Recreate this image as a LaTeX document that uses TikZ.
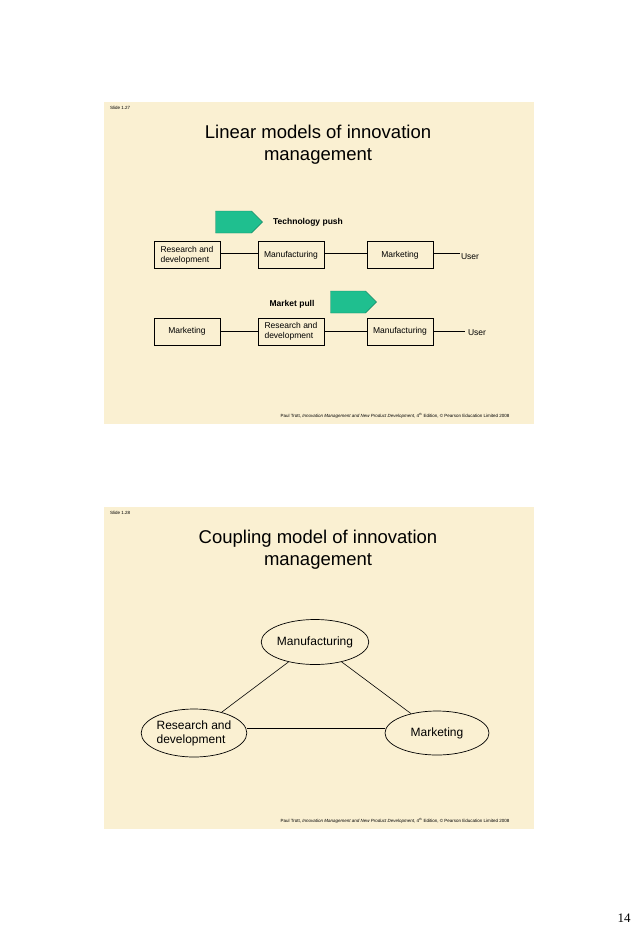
\documentclass[tikz,border=0pt]{standalone}
\usepackage{fontspec}
\setmainfont{Liberation Sans}
\newfontfamily\serifnum{Liberation Serif}
\usetikzlibrary{shapes.geometric,shapes.arrows}
\definecolor{slidebg}{HTML}{FAF0D2}
\definecolor{arrowgreen}{HTML}{1FBF8F}
\tikzset{
 every node/.style={inner sep=0pt},
 lbox/.style={draw,line width=0.6pt,minimum width=66pt,minimum height=27pt,align=left,font=\fontsize{8.5}{10}\selectfont},
 oval/.style={draw,ellipse,line width=0.7pt,align=left,font=\fontsize{12}{14}\selectfont},
 garrow/.style={single arrow,draw=arrowgreen!70!black,fill=arrowgreen,minimum height=47pt,minimum width=22pt,single arrow head extend=0pt,inner sep=0pt},
 conn/.style={line width=0.6pt},
 title/.style={font=\fontsize{18.5}{22}\selectfont,align=center},
 tiny/.style={font=\fontsize{4.5}{5}\selectfont},
 plain/.style={font=\fontsize{8.5}{10}\selectfont},
}
\begin{document}
\begin{tikzpicture}[x=1pt,y=-1pt]
\useasboundingbox (0,0) rectangle (638,932);
\fill[white] (0,0) rectangle (638,932);
\fill[slidebg] (104,102) rectangle (534,424);
\fill[slidebg] (104,507) rectangle (534,829);
% slide 1
\node[tiny,anchor=west] (s1) at (110,108) {Slide 1.27};
\node[title] (t1) at (318,145) {Linear models of innovation\\management};
\node[garrow] (a1) at (233.5,222) {};
\node[plain,font=\bfseries\fontsize{8.5}{10}\selectfont] (tp) at (308,222) {Technology push};
\node[lbox] (r1) at (187,255) {Research and\\development};
\node[lbox] (m1) at (291,255) {Manufacturing};
\node[lbox] (k1) at (400,255) {Marketing};
\coordinate (u1e) at (460,253);
\node[plain] (u1) at (470,257) {User};
\draw[conn] (r1.east |- 0,253) -- (m1.west |- 0,253);
\draw[conn] (m1.east |- 0,253) -- (k1.west |- 0,253);
\draw[conn] (k1.east |- 0,253) -- (u1e);
\node[plain,font=\bfseries\fontsize{8.5}{10}\selectfont] (mp) at (292,304) {Market pull};
\node[garrow,minimum height=46pt] (a2) at (348,302) {};
\node[lbox,align=center] (k2) at (187,331.5) {Marketing};
\node[lbox] (r2) at (291,331.5) {Research and\\development};
\node[lbox] (m2) at (400,331.5) {Manufacturing};
\coordinate (u2e) at (465,331);
\node[plain] (u2) at (477,333) {User};
\draw[conn] (k2.east |- 0,331) -- (r2.west |- 0,331);
\draw[conn] (r2.east |- 0,331) -- (m2.west |- 0,331);
\draw[conn] (m2.east |- 0,331) -- (u2e);
\node[tiny] (f1) at (395,416) {Paul Trott, \textit{Innovation Management and New Product Development}, 4\textsuperscript{th} Edition, \textcopyright{} Pearson Education Limited 2008};
% slide 2
\node[tiny,anchor=west] (s2) at (110,513) {Slide 1.28};
\node[title] (t2) at (318,550) {Coupling model of innovation\\management};
\node[oval,minimum width=100pt,minimum height=45pt] (em) at (315,642) {Manufacturing};
\node[oval,minimum width=96pt,minimum height=48pt] (er) at (194,733) {Research and\\development};
\node[oval,minimum width=104pt,minimum height=44pt] (ek) at (437,733) {Marketing};
\draw[conn] (em) -- (er);
\draw[conn] (em) -- (ek);
\draw[conn] (er.east |- 0,728) -- (ek.west |- 0,728);
\node[tiny] (f2) at (395,821) {Paul Trott, \textit{Innovation Management and New Product Development}, 4\textsuperscript{th} Edition, \textcopyright{} Pearson Education Limited 2008};
\node[font=\serifnum\fontsize{13}{15}\selectfont] (pg) at (624,918) {14};
\end{tikzpicture}
\end{document}
